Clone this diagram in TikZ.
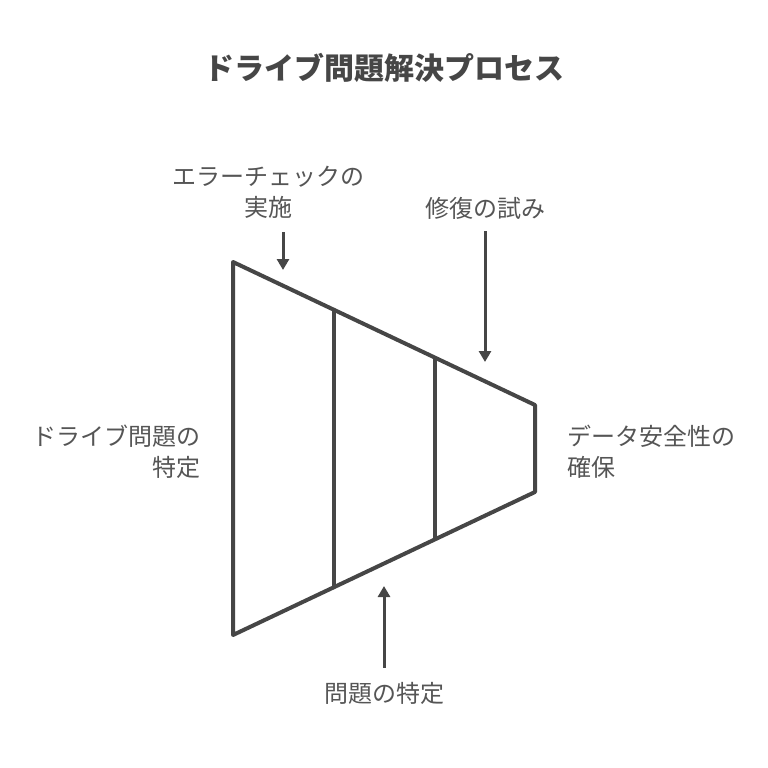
\documentclass[tikz,border=0pt]{standalone}
\usepackage{fontspec}
\setmainfont{Noto Sans CJK JP}
\usetikzlibrary{arrows.meta}
\definecolor{ink}{HTML}{464646}
\definecolor{txt}{HTML}{555555}
\tikzset{funnel/.style={draw=ink,line width=4pt,line join=round,line cap=round},
	stage/.style={draw=ink,line width=4pt,line cap=round},
	label/.style={text=txt,font=\fontsize{24}{31}\selectfont,inner sep=0pt},
	pointer/.style={draw=ink,line width=3pt,-{Triangle[length=11pt,width=12pt]}}
}

\begin{document}
\begin{tikzpicture}[x=1pt,y=-1pt]
	\useasboundingbox (0,0) rectangle (768,768);
	\node (title) at (384,68) [text=ink,font=\fontsize{30}{36}\selectfont\bfseries] {ドライブ問題解決プロセス};
	% funnel outline
	\coordinate (TL) at (233,262);
	\coordinate (BL) at (233,635);
	\coordinate (TR) at (535,405);
	\coordinate (BR) at (535,492);
	\draw[funnel] (TL) -- (TR) -- (BR) -- (BL) -- cycle;
	% stage borders
	\coordinate (S1t) at (334,310);
	\coordinate (S1b) at (334,587);
	\coordinate (S2t) at (435,358);
	\coordinate (S2b) at (435,539);
	\draw[stage] (S1t) -- (S1b);
	\draw[stage] (S2t) -- (S2b);
	% labels
	\node (check) at (268,192) [label,align=center] {エラーチェックの\\実施};
	\node (repair) at (485,208) [label] {修復の試み};
	\node (ident) at (201,452) [label,align=right,anchor=east] {ドライブ問題の\\特定};
	\node (safe) at (567,452) [label,align=left,anchor=west] {データ安全性の\\確保};
	\node (problem) at (384,693) [label] {問題の特定};
	% arrows
	\coordinate (checkTip) at (283,270);
	\coordinate (repairTip) at (485,362);
	\coordinate (problemTip) at (384,586);
	\draw[pointer] (283,232) -- (checkTip);
	\draw[pointer] (repair.south) ++(0,12) -- (repairTip);
	\draw[pointer] (problem.north) ++(0,-14) -- (problemTip);
\end{tikzpicture}
\end{document}
